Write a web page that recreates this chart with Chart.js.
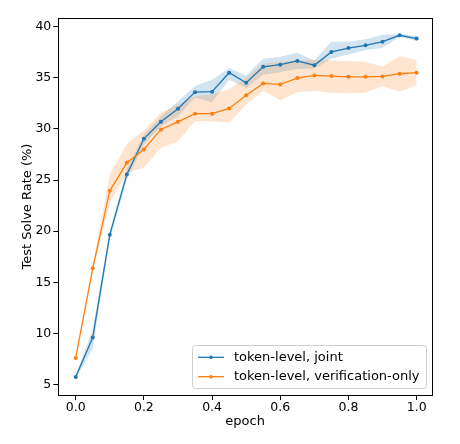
<!DOCTYPE html>
<html>
<head>
<meta charset="utf-8">
<script src="https://cdn.jsdelivr.net/npm/chart.js@4"></script>
<style>
html,body{margin:0;padding:0;background:#fff;}
#wrap{width:460px;height:444px;position:relative;}
</style>
</head>
<body>
<div id="wrap"><canvas id="c"></canvas></div>
<script>
const epochs = [0,0.05,0.1,0.15,0.2,0.25,0.3,0.35,0.4,0.45,0.5,0.55,0.6,0.65,0.7,0.75,0.8,0.85,0.9,0.95,1.0];
const jointMean = [5.75,9.6,19.65,25.55,29.04,30.7,31.97,33.6,33.64,35.5,34.52,36.08,36.28,36.65,36.23,37.53,37.91,38.18,38.53,39.16,38.84];
const jointLow  = [5.55,8.5,19.2,25.0,28.5,30.27,31.25,33.05,32.6,34.8,34.0,35.3,35.54,35.87,35.9,36.86,37.29,37.7,37.94,38.98,38.6];
const jointHigh = [5.95,10.4,20.1,26.1,29.46,31.25,32.7,34.2,34.8,35.97,35.2,36.86,37.06,37.45,36.7,38.53,38.53,38.77,39.2,39.25,39.1];
const verifMean = [7.61,16.37,23.96,26.69,27.99,29.95,30.7,31.49,31.49,32.0,33.3,34.45,34.35,34.97,35.23,35.17,35.1,35.1,35.14,35.4,35.5];
const verifLow  = [7.4,16.1,22.8,25.7,26.2,28.15,28.8,30.76,30.76,30.6,32.4,33.7,32.8,33.6,33.7,33.54,33.5,33.54,34.2,33.64,34.3];
const verifHigh = [7.8,16.65,25.55,28.55,29.85,31.58,32.4,33.2,33.4,33.9,35.0,36.38,36.58,36.7,36.77,36.7,36.64,36.54,36.1,37.1,36.77];
const seriesNames = ['token-level, joint','token-level, verification-only'];
const xTicks = [0,0.2,0.4,0.6,0.8,1.0];
const yTicks = [5,10,15,20,25,30,35,40];

const BLUE = '#1f77b4', ORANGE = '#ff7f0e';
const pts = arr => arr.map((v,i)=>({x:epochs[i], y:v}));
const FONT = 'DejaVu Sans';

function band(data, color, fill, order){
  return {data: pts(data), borderWidth:0, borderColor:'rgba(0,0,0,0)', backgroundColor:color,
          pointRadius:0, fill:fill, order:order, isBand:true, tension:0};
}

const frame = {
  id:'frame',
  afterDraw(chart){
    const {ctx, chartArea:a} = chart;
    ctx.save();
    ctx.strokeStyle='#000'; ctx.lineWidth=1;
    ctx.strokeRect(Math.round(a.left)+0.5, Math.round(a.top)+0.5, Math.round(a.right-a.left), Math.round(a.bottom-a.top));
    // legend
    const lx=192.5, ly=345.5, lw=234, lh=43;
    ctx.fillStyle='rgba(255,255,255,0.8)';
    ctx.strokeStyle='#d0d0d0';
    ctx.beginPath();
    if (ctx.roundRect) ctx.roundRect(lx,ly,lw,lh,3); else ctx.rect(lx,ly,lw,lh);
    ctx.fill(); ctx.stroke();
    const cols=[BLUE,ORANGE];
    const rows=[357.3,376.7];
    ctx.font = '13px "'+FONT+'"';
    ctx.textBaseline='middle';
    for(let i=0;i<2;i++){
      ctx.strokeStyle=cols[i]; ctx.lineWidth=1.3;
      ctx.beginPath(); ctx.moveTo(198,rows[i]); ctx.lineTo(224,rows[i]); ctx.stroke();
      ctx.fillStyle=cols[i];
      ctx.beginPath(); ctx.arc(211,rows[i],1.8,0,Math.PI*2); ctx.fill();
      ctx.fillStyle='#000';
      ctx.fillText(seriesNames[i], 234, rows[i]);
    }
    ctx.restore();
  }
};

new Chart(document.getElementById('c'), {
  type:'line',
  data:{
    datasets:[
      band(jointHigh,'rgba(31,119,180,0.2)',false,3),
      band(jointLow,'rgba(31,119,180,0.2)','-1',3),
      band(verifHigh,'rgba(255,127,14,0.2)',false,2),
      band(verifLow,'rgba(255,127,14,0.2)','-1',2),
      {label:seriesNames[0], data:pts(jointMean), borderColor:BLUE, backgroundColor:BLUE, borderWidth:1.3,
       pointRadius:2, pointBorderWidth:0, fill:false, order:1, tension:0},
      {label:seriesNames[1], data:pts(verifMean), borderColor:ORANGE, backgroundColor:ORANGE, borderWidth:1.3,
       pointRadius:2, pointBorderWidth:0, fill:false, order:0, tension:0}
    ]
  },
  options:{
    responsive:true, maintainAspectRatio:false, animation:false,
    devicePixelRatio: window.devicePixelRatio || 1,
    layout:{padding:{left:15, right:28, top:18, bottom:15}},
    plugins:{legend:{display:false}, tooltip:{enabled:false}},
    scales:{
      x:{type:'linear', min:-0.051, max:1.045,
         afterBuildTicks: ax => { ax.ticks = xTicks.map(v=>({value:v})); },
         afterFit: ax => { ax.height = 34; },
         grid:{display:true, drawOnChartArea:false, drawTicks:true, tickLength:5, color:'#000', lineWidth:1},
         border:{display:true, color:'#000', width:1},
         ticks:{color:'#000', padding:0, maxRotation:0, font:{family:FONT, size:12.5},
                callback: v => Number(v).toFixed(1)},
         title:{display:true, text:'epoch', color:'#000', font:{family:FONT, size:13}, padding:{top:0,bottom:0}}
      },
      y:{type:'linear', min:3.98, max:40.85,
         afterBuildTicks: ax => { ax.ticks = yTicks.map(v=>({value:v})); },
         afterFit: ax => { ax.width = 43.3; },
         grid:{display:true, drawOnChartArea:false, drawTicks:true, tickLength:5, color:'#000', lineWidth:1},
         border:{display:true, color:'#000', width:1},
         ticks:{color:'#000', padding:2, font:{family:FONT, size:12.5}, callback: v => String(v)},
         title:{display:true, text:'Test Solve Rate (%)', color:'#000', font:{family:FONT, size:13}, padding:{top:5,bottom:4}}
      }
    }
  },
  plugins:[frame]
});
</script>
</body>
</html>
